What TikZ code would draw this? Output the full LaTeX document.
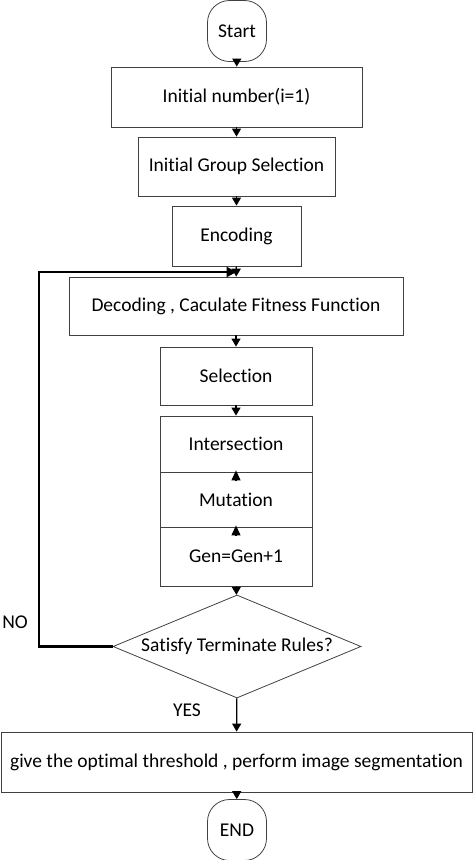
\documentclass[tikz,border=0pt]{standalone}
\usepackage{fontspec}
\setmainfont{Carlito}[Ligatures=NoCommon]
\usetikzlibrary{arrows.meta,shapes.geometric}

\begin{document}
\begin{tikzpicture}[x=1pt,y=-1pt,>={Triangle[length=8pt,width=9pt]},
  every node/.style={font=\fontsize{19.5}{23}\selectfont},
  box/.style={draw=black!75,line width=0.8pt,inner sep=0pt},
  term/.style={box,rounded corners=22pt,minimum width=59,minimum height=61},
  decide/.style={box,diamond,aspect=2.4,minimum width=248,minimum height=103},
  flow/.style={->,line width=1.2pt},
  back/.style={->,line width=2.6pt,>={Triangle[length=10pt,width=10pt]}}]

  \useasboundingbox (0,0) rectangle (474,860);

  \node[term] (start) at (237,31) {Start};
  \node[box,minimum width=251,minimum height=60] (init) at (236.5,97) {Initial number(i=1)};
  \node[box,minimum width=197,minimum height=59] (group) at (236.5,166.5) {Initial Group Selection};
  \node[box,minimum width=129,minimum height=60] (enc) at (236.5,236) {Encoding};
  \node[box,minimum width=334,minimum height=58] (dec) at (236,306) {Decoding , Caculate Fitness Function};
  \node[box,minimum width=152,minimum height=58] (sel) at (236,376) {Selection};
  \node[box,minimum width=152,minimum height=56] (inter) at (236,444) {Intersection};
  \node[box,minimum width=152,minimum height=55] (mut) at (236,499.5) {Mutation};
  \node[box,minimum width=152,minimum height=59] (gen) at (236,556.5) {Gen=Gen+1};
  \node[decide] (sat) at (237,646.5) {Satisfy Terminate Rules?};
  \node[box,minimum width=471,minimum height=60] (final) at (236.5,762) {give the optimal threshold , perform image segmentation};
  \node[term] (stop) at (237,830) {END};

  \node (no) at (15,622) {NO};
  \node (yes) at (187,710) {YES};

  \coordinate (merge) at (236.5,272);
  \coordinate (corner) at (39,272);

  \draw[flow] (start) -- (init);
  \draw[flow] (init) -- (group);
  \draw[flow] (group) -- (enc);
  \draw[flow] (enc) -- (dec);
  \draw[flow] (dec) -- (sel);
  \draw[flow] (sel) -- (inter);
  \draw[flow,>={Triangle[length=10pt,width=9pt]}] ([yshift=-9pt]inter.south) -- ([yshift=2pt]inter.south);
  \draw[flow,>={Triangle[length=10pt,width=9pt]}] ([yshift=-9pt]mut.south) -- ([yshift=2pt]mut.south);
  \draw[flow] (gen) -- (sat);
  \draw[flow] (sat) -- (final);
  \draw[flow] (final) -- (stop);
  \draw[back] (sat.west) -| (corner) -- (merge);
\end{tikzpicture}
\end{document}
